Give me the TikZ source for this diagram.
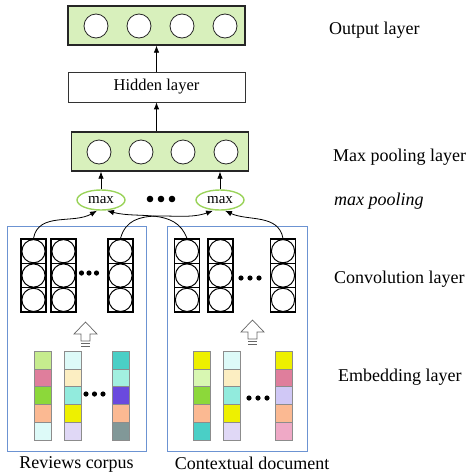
\documentclass[tikz,border=0pt]{standalone}
\usepackage{fontspec}
\setmainfont{Liberation Serif}
\usetikzlibrary{arrows.meta,positioning,shapes.geometric}

\definecolor{poolgreen}{HTML}{D8F0BC}
\definecolor{ringgreen}{HTML}{9AD35A}
\definecolor{corpusblue}{HTML}{6C93D2}
\definecolor{eLime}{HTML}{C6EC8E}
\definecolor{eRose}{HTML}{DF7E9C}
\definecolor{eGrass}{HTML}{8CD83A}
\definecolor{eSalmon}{HTML}{FBB992}
\definecolor{eIce}{HTML}{DDFAF8}
\definecolor{eCream}{HTML}{FCEEC2}
\definecolor{eAqua}{HTML}{92EBDD}
\definecolor{eYellow}{HTML}{EEF000}
\definecolor{eLilac}{HTML}{E0D8F6}
\definecolor{eTeal}{HTML}{4ACFC6}
\definecolor{eMint}{HTML}{A2F0E0}
\definecolor{eViolet}{HTML}{6A4ADE}
\definecolor{eSlate}{HTML}{819898}
\definecolor{eSpring}{HTML}{D8F7B2}
\definecolor{eLavender}{HTML}{D0C8F6}
\definecolor{ePink}{HTML}{EFA9C6}

\tikzset{
  layerbox/.style={draw=black!85, line width=1.3pt, fill=poolgreen, minimum width=177pt, minimum height=39pt, inner sep=0pt},
  unit/.style={draw=black!85, circle, line width=0.8pt, fill=white, minimum size=24pt, inner sep=0pt},
  plainbox/.style={draw=black!80, line width=0.7pt, minimum width=177pt, minimum height=30pt, inner sep=0pt, font=\fontsize{16.5}{18}\selectfont},
  maxring/.style={draw=ringgreen, line width=1.4pt, fill=white, ellipse, minimum width=48pt, minimum height=20pt, inner sep=0pt, font=\fontsize{15}{16}\selectfont},
  flow/.style={-{Latex[length=7pt,width=5.5pt]}, line width=0.8pt},
  cell/.style={draw, line width=1.2pt, minimum width=25pt, minimum height=24.33pt, inner sep=0pt,
    path picture={\draw[line width=1pt] (path picture bounding box.center) circle (11.6pt);}},
  emb/.style={draw=black!45, line width=0.5pt, minimum width=17pt, minimum height=17.8pt, inner sep=0pt},
  corpus/.style={draw=corpusblue, line width=0.9pt, inner sep=0pt},
  tag/.style={anchor=west, inner sep=0pt, font=\fontsize{18}{20}\selectfont},
  caption/.style={inner sep=2pt, font=\fontsize{18}{20}\selectfont},
  blockarrow/.style={draw=black!60, fill=white, line width=0.7pt},
}

\begin{document}
\begin{tikzpicture}[x=1pt, y=1pt]
  \useasboundingbox (0,0) rectangle (474,-474);

  % output, hidden and pooled layers
  \node[layerbox] (out) at (156.5,-25.5) {};
  \foreach \x [count=\i] in {96,139,182,225}
    \node[unit] (o\i) at (\x,-26) {};
  \node[plainbox] (hid) at (156.5,-87) {Hidden layer};
  \node[layerbox] (pool) at (160,-151.5) {};
  \foreach \x [count=\i] in {99,141,183,226}
    \node[unit] (p\i) at (\x,-152) {};
  \draw[flow] (hid.north) -- (out.south -| hid.north);
  \draw[flow] (pool.north -| hid.south) -- (hid.south);

  % max nodes
  \node[maxring] (m1) at (101,-200) {max};
  \node[maxring] (m2) at (220,-200) {max};
  \draw[flow] (m1.north) -- (m1.north |- pool.south);
  \draw[flow] (m2.north) -- (m2.north |- pool.south);
  \foreach \x in {150,161,172}
    \fill (\x,-199) circle (3.3pt);

  % the two corpora
  \node[corpus, minimum width=139pt, minimum height=225pt] (revbox) at (76.5,-338.5) {};
  \node[corpus, minimum width=140pt, minimum height=225pt] (ctxbox) at (237,-338.5) {};
  \node[caption, below=3pt of revbox] (revcap) {Reviews corpus};
  \node[caption, below=3pt of ctxbox, xshift=15pt] (ctxcap) {Contextual document};

  % convolution columns
  \foreach \c/\x in {ca/33.5, cb/63.5, cc/120.5, cd/187, ce/220.5, cf/283}
    \foreach \k in {1,2,3}
      \node[cell] (\c\k) at (\x,{-251.2-24.33*(\k-1)}) {};
  \foreach \x/\y in {81.5/-273, 89/-273, 96.5/-273, 241/-278, 250/-278, 259/-278}
    \fill (\x,\y) circle (2.6pt);

  % embedding columns
  \foreach \e/\x/\cols in {ea/42.5/{eLime,eRose,eGrass,eSalmon,eIce},
                           eb/72.5/{eIce,eCream,eAqua,eYellow,eLilac},
                           ec/120.5/{eTeal,eMint,eViolet,eSalmon,eSlate},
                           ed/201.5/{eYellow,eSpring,eGrass,eSalmon,eTeal},
                           ee/232/{eIce,eCream,eAqua,eYellow,eLilac},
                           ef/283.5/{eYellow,eRose,eLavender,eSalmon,ePink}}
    \foreach \f [count=\k] in \cols
      \node[emb, fill=\f] (\e\k) at (\x,{-359.9-17.8*(\k-1)}) {};
  \foreach \x/\y in {86/-394, 94.5/-394, 103/-394, 249/-398, 258/-398, 267/-398}
    \fill (\x,\y) circle (2.6pt);

  % hollow arrows from embedding to convolution
  \foreach \ax/\ay in {85.5/-322, 252.5/-320} {
    \draw[blockarrow] (\ax,\ay) -- ++(11.5,-12) -- ++(-7,0) -- ++(0,-7) -- ++(-9,0)
      -- ++(0,7) -- ++(-7,0) -- cycle;
    \draw[black!60, line width=0.7pt] (\ax-4.5,\ay-21.5) -- ++(9,0);
    \draw[black!60, line width=0.7pt] (\ax-4.5,\ay-24) -- ++(9,0);
  }

  % connections to max pooling
  \draw[flow] (ca1.north) to[out=80, in=-150] ([xshift=-4pt]m1.south);
  \draw[flow] (cd1.north) to[out=110, in=-15] ([xshift=6pt]m1.south);
  \draw[flow] (cc1.north) to[out=75, in=-160] ([xshift=-7pt]m2.south);
  \draw[flow] (cf1.north) to[out=100, in=-25] ([xshift=5pt]m2.south);

  % layer names
  \node[tag] (tout) at (329,-30) {Output layer};
  \node[tag] (tpool) at (333,-157) {Max pooling layer};
  \node[tag, font=\fontsize{18}{20}\selectfont\itshape] (tmax) at (334,-201) {max pooling};
  \node[tag] (tconv) at (334,-279) {Convolution layer};
  \node[tag] (temb) at (338,-377) {Embedding layer};
\end{tikzpicture}
\end{document}
